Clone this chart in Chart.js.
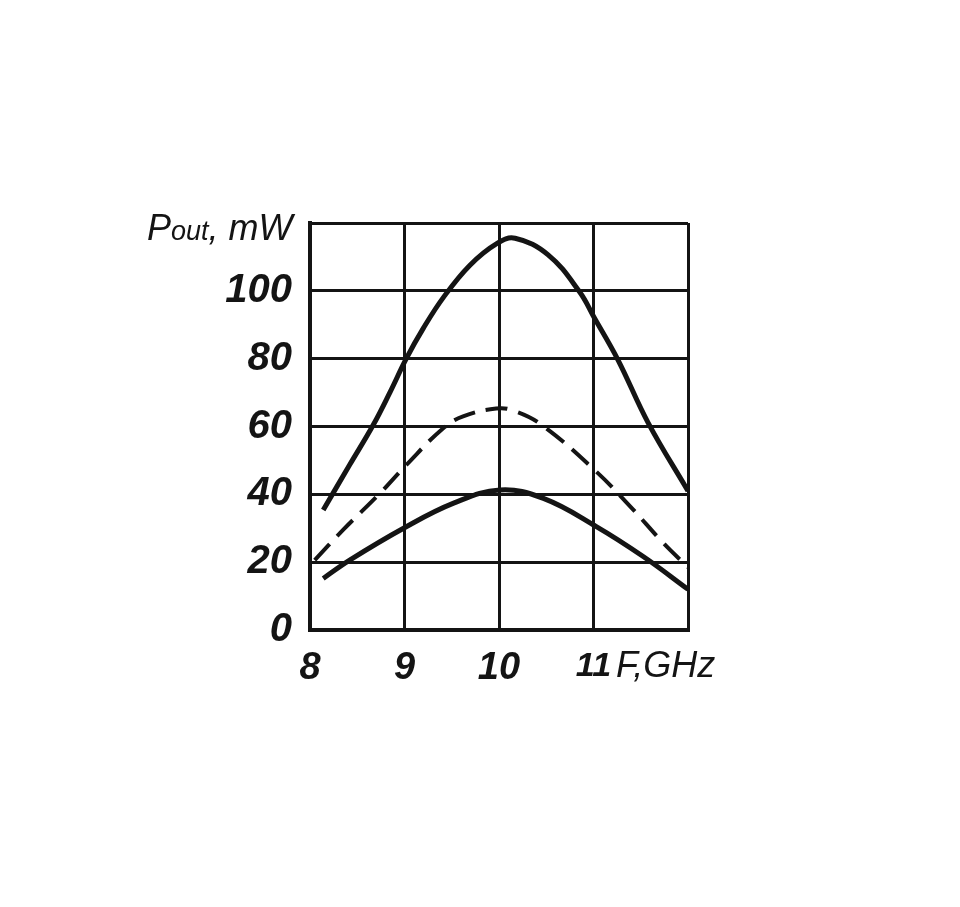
<!DOCTYPE html>
<html>
<head>
<meta charset="utf-8">
<script src="https://cdn.jsdelivr.net/npm/chart.js@4/dist/chart.umd.min.js"></script>
<style>
  html, body { margin: 0; padding: 0; background: #fff; }
  #wrap { width: 960px; height: 907px; }
</style>
</head>
<body>
<div id="wrap"><canvas id="pout_chart"></canvas></div>
<script>
// values: frequency (GHz) -> output power (mW)
const freqUpper = [8.14, 8.42, 8.67, 8.85, 9.02, 9.2, 9.41, 9.69, 9.98, 10.17, 10.52, 10.85, 11.01, 11.26, 11.58, 12.0];
const powerUpper = [35.4, 48.7, 60.5, 70.3, 80.1, 89, 98, 107.5, 114, 115.5, 110.6, 99.8, 92, 79.6, 61, 41];

const freqDashed = [8.05, 8.35, 8.74, 9.02, 9.41, 9.62, 9.97, 10.15, 10.45, 11.01, 11.39, 11.74, 12.0];
const powerDashed = [20.6, 29.5, 40.3, 48.7, 59.5, 63, 65.3, 64.7, 60.5, 47.2, 36.4, 25.6, 18.5];

const freqLower = [8.14, 8.42, 8.99, 9.52, 10.01, 10.47, 11.03, 11.53, 12.0];
const powerLower = [15.2, 20.6, 30, 37.4, 41.3, 38.8, 30.5, 21.6, 12];

const xTicks = [8, 9, 10, 11, 12];
const yTicks = [0, 20, 40, 60, 80, 100, 120];

const toPoints = (xs, ys) => xs.map((x, i) => ({ x: x, y: ys[i] }));

const ink = '#141414';
const tickFont = { family: 'Liberation Sans', size: 40, style: 'italic', weight: 'bold' };

// axis captions sit in the corners, not centred, so they are drawn by hand
const captions = {
    id: 'captions',
    afterDraw(chart) {
        const { ctx, chartArea } = chart;
        ctx.save();
        ctx.fillStyle = ink;
        ctx.textBaseline = 'alphabetic';
        let x = chartArea.left - 163;
        const base = chartArea.top + 17;
        ctx.font = 'italic 36px "Liberation Sans"';
        ctx.fillText('P', x, base);
        x += ctx.measureText('P').width;
        ctx.font = 'italic 27px "Liberation Sans"';
        ctx.fillText('out', x, base);
        x += ctx.measureText('out').width;
        ctx.font = 'italic 36px "Liberation Sans"';
        ctx.fillText(', mW', x, base);

        ctx.font = 'italic 36px "Liberation Sans"';
        ctx.fillText('F,GHz', chartArea.right - 72, chartArea.bottom + 47);
        ctx.restore();
    }
};

const ctx = document.getElementById('pout_chart').getContext('2d');
new Chart(ctx, {
    type: 'line',
    data: {
        datasets: [
            {
                label: 'upper',
                data: toPoints(freqUpper, powerUpper),
                borderColor: ink,
                borderWidth: 5,
                pointRadius: 0,
                fill: false,
                tension: 0.4
            },
            {
                label: 'dashed',
                data: toPoints(freqDashed, powerDashed),
                borderColor: ink,
                borderWidth: 4,
                borderDash: [22, 11],
                pointRadius: 0,
                fill: false,
                tension: 0.4
            },
            {
                label: 'lower',
                data: toPoints(freqLower, powerLower),
                borderColor: ink,
                borderWidth: 5,
                pointRadius: 0,
                fill: false,
                tension: 0.4
            }
        ]
    },
    options: {
        responsive: true,
        maintainAspectRatio: false,
        animation: false,
        layout: {
            padding: { left: 210, right: 272, top: 223, bottom: 217 }
        },
        plugins: {
            legend: { display: false },
            tooltip: { enabled: false }
        },
        scales: {
            x: {
                type: 'linear',
                min: 8,
                max: 12,
                afterBuildTicks: (scale) => { scale.ticks = xTicks.map(v => ({ value: v })); },
                afterFit: (scale) => { scale.height = 60; },
                border: { color: ink, width: 4 },
                grid: { color: ink, lineWidth: 3, drawTicks: false },
                ticks: {
                    color: ink,
                    font: (c) => ({ family: 'Liberation Sans', size: c.tick && c.tick.value === 11 ? 34 : 38, style: 'italic', weight: 'bold' }),
                    padding: 16,
                    maxRotation: 0,
                    callback: (v) => (v === 12 ? '' : v)
                }
            },
            y: {
                min: 0,
                max: 120,
                afterBuildTicks: (scale) => { scale.ticks = yTicks.map(v => ({ value: v })); },
                afterFit: (scale) => { scale.width = 100; },
                border: { color: ink, width: 4 },
                grid: { color: ink, lineWidth: 3, drawTicks: false },
                ticks: {
                    color: ink,
                    font: tickFont,
                    padding: 18,
                    callback: (v) => (v === 120 ? '' : v)
                }
            }
        }
    },
    plugins: [captions]
});
</script>
</body>
</html>
